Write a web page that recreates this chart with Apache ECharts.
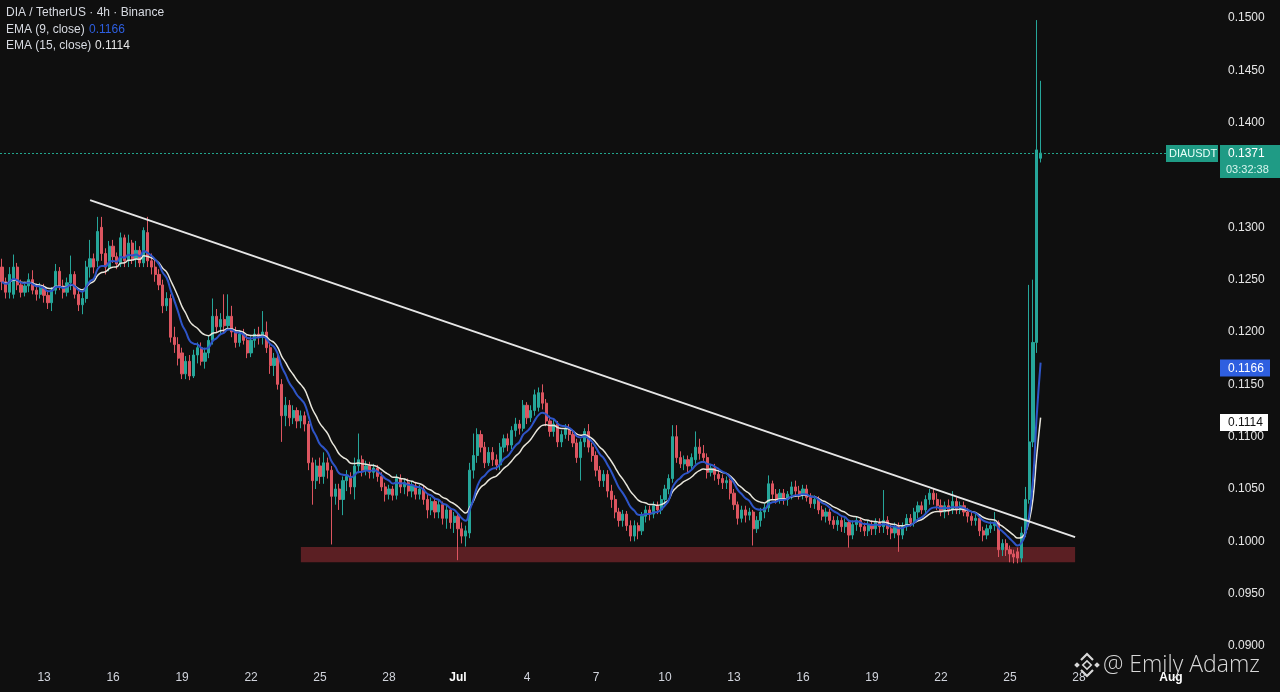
<!DOCTYPE html>
<html>
<head>
<meta charset="utf-8">
<script src="https://cdn.jsdelivr.net/npm/echarts@6/dist/echarts.min.js"></script>
<style>
html,body{margin:0;padding:0;background:#0f0f0f;}
#chart{width:1280px;height:692px;}
</style>
</head>
<body>
<div id="chart"></div>
<script>
// ---- data (DIA/USDT, 4h, Binance) ----
// each candle: [open, close, low, high]
const candles = [
[0.1262,0.1248,0.1240,0.1270],[0.1248,0.1238,0.1232,0.1252],[0.1238,0.1255,0.1232,0.1262],[0.1236,0.1262,0.1232,0.1274],
[0.1262,0.1245,0.1240,0.1266],[0.1245,0.1238,0.1233,0.1250],[0.1238,0.1244,0.1234,0.1248],[0.1244,0.1250,0.1238,0.1256],
[0.1250,0.1240,0.1236,0.1259],[0.1240,0.1236,0.1230,0.1246],[0.1236,0.1242,0.1232,0.1247],[0.1242,0.1235,0.1228,0.1246],
[0.1235,0.1228,0.1222,0.1240],[0.1228,0.1240,0.1220,0.1243],[0.1240,0.1258,0.1236,0.1265],[0.1258,0.1244,0.1240,0.1262],
[0.1244,0.1238,0.1232,0.1250],[0.1238,0.1247,0.1234,0.1252],[0.1247,0.1255,0.1240,0.1273],[0.1255,0.1236,0.1232,0.1258],
[0.1236,0.1226,0.1220,0.1240],[0.1226,0.1232,0.1217,0.1238],[0.1232,0.1262,0.1228,0.1268],[0.1262,0.1270,0.1252,0.1288],
[0.1270,0.1262,0.1256,0.1275],[0.1268,0.1296,0.1262,0.1310],[0.1300,0.1275,0.1268,0.1310],[0.1275,0.1262,0.1255,0.1280],
[0.1262,0.1282,0.1258,0.1287],[0.1282,0.1272,0.1266,0.1288],[0.1272,0.1265,0.1260,0.1276],[0.1265,0.1290,0.1262,0.1295],
[0.1290,0.1268,0.1262,0.1293],[0.1268,0.1285,0.1262,0.1293],[0.1285,0.1270,0.1265,0.1288],[0.1270,0.1278,0.1262,0.1287],
[0.1278,0.1266,0.1262,0.1282],[0.1266,0.1297,0.1262,0.1300],[0.1295,0.1268,0.1262,0.1310],[0.1268,0.1262,0.1255,0.1275],
[0.1262,0.1255,0.1248,0.1270],[0.1255,0.1245,0.1240,0.1260],[0.1245,0.1225,0.1218,0.1250],[0.1225,0.1232,0.1220,0.1238],
[0.1232,0.1195,0.1190,0.1236],[0.1195,0.1188,0.1180,0.1205],[0.1188,0.1175,0.1168,0.1195],[0.1180,0.1160,0.1155,0.1185],
[0.1160,0.1172,0.1155,0.1177],[0.1172,0.1158,0.1154,0.1178],[0.1158,0.1178,0.1156,0.1183],[0.1178,0.1185,0.1170,0.1190],
[0.1185,0.1172,0.1168,0.1190],[0.1172,0.1180,0.1165,0.1185],[0.1180,0.1192,0.1175,0.1197],[0.1192,0.1215,0.1188,0.1232],
[0.1215,0.1205,0.1200,0.1222],[0.1205,0.1212,0.1198,0.1218],[0.1212,0.1206,0.1200,0.1236],[0.1206,0.1215,0.1202,0.1236],
[0.1215,0.1200,0.1195,0.1225],[0.1200,0.1190,0.1185,0.1205],[0.1190,0.1198,0.1186,0.1202],[0.1198,0.1192,0.1188,0.1203],
[0.1192,0.1180,0.1175,0.1198],[0.1180,0.1192,0.1176,0.1196],[0.1192,0.1198,0.1185,0.1203],[0.1198,0.1195,0.1188,0.1205],
[0.1195,0.1200,0.1188,0.1220],[0.1200,0.1185,0.1180,0.1210],[0.1185,0.1168,0.1160,0.1190],[0.1168,0.1175,0.1158,0.1180],
[0.1175,0.1150,0.1145,0.1178],[0.1150,0.1120,0.1095,0.1155],[0.1120,0.1130,0.1110,0.1138],[0.1130,0.1118,0.1110,0.1135],
[0.1118,0.1125,0.1112,0.1130],[0.1125,0.1115,0.1108,0.1128],[0.1115,0.1120,0.1108,0.1125],[0.1120,0.1112,0.1105,0.1124],
[0.1112,0.1075,0.1068,0.1115],[0.1075,0.1058,0.1035,0.1080],[0.1058,0.1072,0.1050,0.1078],[0.1072,0.1062,0.1055,0.1080],
[0.1062,0.1075,0.1055,0.1085],[0.1075,0.1068,0.1060,0.1080],[0.1068,0.1043,0.0997,0.1072],[0.1043,0.1050,0.1035,0.1055],
[0.1050,0.1040,0.1030,0.1055],[0.1040,0.1058,0.1025,0.1062],[0.1058,0.1062,0.1048,0.1068],[0.1062,0.1052,0.1045,0.1066],
[0.1052,0.1072,0.1040,0.1080],[0.1072,0.1078,0.1065,0.1103],[0.1078,0.1068,0.1062,0.1082],[0.1068,0.1072,0.1063,0.1077],
[0.1072,0.1066,0.1060,0.1076],[0.1066,0.1070,0.1060,0.1074],[0.1070,0.1062,0.1057,0.1073],[0.1062,0.1052,0.1048,0.1066],
[0.1052,0.1045,0.1038,0.1056],[0.1045,0.1050,0.1040,0.1054],[0.1050,0.1044,0.1039,0.1053],[0.1044,0.1060,0.1040,0.1064],
[0.1060,0.1052,0.1046,0.1064],[0.1052,0.1056,0.1045,0.1060],[0.1056,0.1048,0.1043,0.1060],[0.1048,0.1053,0.1042,0.1058],
[0.1053,0.1045,0.1040,0.1057],[0.1045,0.1050,0.1040,0.1054],[0.1050,0.1040,0.1035,0.1054],[0.1040,0.1030,0.1022,0.1045],
[0.1030,0.1038,0.1025,0.1042],[0.1038,0.1028,0.1022,0.1041],[0.1028,0.1035,0.1022,0.1040],[0.1035,0.1022,0.1016,0.1038],
[0.1022,0.1030,0.1012,0.1034],[0.1030,0.1018,0.1012,0.1032],[0.1018,0.1024,0.1008,0.1028],[0.1024,0.1012,0.0982,0.1026],
[0.1012,0.1005,0.0998,0.1018],[0.1005,0.1010,0.0995,0.1015],[0.1008,0.1068,0.1003,0.1075],[0.1068,0.1082,0.1060,0.1103],
[0.1082,0.1102,0.1075,0.1108],[0.1102,0.1090,0.1085,0.1106],[0.1090,0.1075,0.1070,0.1095],[0.1075,0.1085,0.1072,0.1090],
[0.1085,0.1078,0.1072,0.1090],[0.1078,0.1073,0.1068,0.1083],[0.1073,0.1090,0.1068,0.1094],[0.1090,0.1098,0.1085,0.1102],
[0.1098,0.1092,0.1086,0.1103],[0.1092,0.1106,0.1088,0.1110],[0.1106,0.1112,0.1100,0.1118],[0.1112,0.1108,0.1102,0.1116],
[0.1108,0.1130,0.1105,0.1135],[0.1130,0.1118,0.1112,0.1133],[0.1118,0.1125,0.1114,0.1130],[0.1125,0.1140,0.1120,0.1145],
[0.1128,0.1142,0.1124,0.1147],[0.1142,0.1132,0.1126,0.1150],[0.1132,0.1115,0.1110,0.1136],[0.1115,0.1105,0.1100,0.1120],
[0.1105,0.1112,0.1100,0.1116],[0.1112,0.1095,0.1090,0.1115],[0.1095,0.1102,0.1090,0.1106],[0.1102,0.1108,0.1098,0.1112],
[0.1108,0.1102,0.1096,0.1112],[0.1102,0.1094,0.1090,0.1106],[0.1094,0.1080,0.1075,0.1098],[0.1080,0.1095,0.1058,0.1098],
[0.1095,0.1105,0.1090,0.1108],[0.1105,0.1090,0.1085,0.1112],[0.1090,0.1082,0.1076,0.1094],[0.1082,0.1068,0.1062,0.1086],
[0.1068,0.1058,0.1052,0.1072],[0.1058,0.1064,0.1052,0.1068],[0.1064,0.1048,0.1042,0.1068],[0.1048,0.1040,0.1032,0.1054],
[0.1040,0.1028,0.1022,0.1044],[0.1028,0.1020,0.1014,0.1032],[0.1020,0.1026,0.1014,0.1030],[0.1026,0.1015,0.1010,0.1029],
[0.1015,0.1005,0.1000,0.1020],[0.1005,0.1015,0.1000,0.1020],[0.1015,0.1010,0.1002,0.1018],[0.1010,0.1024,0.1006,0.1028],
[0.1024,0.1030,0.1018,0.1034],[0.1030,0.1026,0.1020,0.1034],[0.1026,0.1034,0.1022,0.1038],[0.1034,0.1030,0.1026,0.1038],
[0.1030,0.1040,0.1026,0.1044],[0.1040,0.1050,0.1035,0.1054],[0.1050,0.1060,0.1045,0.1064],[0.1060,0.1100,0.1056,0.1111],
[0.1100,0.1080,0.1075,0.1111],[0.1080,0.1074,0.1070,0.1086],[0.1074,0.1078,0.1068,0.1082],[0.1078,0.1072,0.1066,0.1082],
[0.1072,0.1080,0.1068,0.1084],[0.1078,0.1090,0.1074,0.1105],[0.1090,0.1084,0.1078,0.1098],[0.1084,0.1080,0.1075,0.1092],
[0.1080,0.1066,0.1060,0.1084],[0.1066,0.1070,0.1062,0.1074],[0.1070,0.1064,0.1058,0.1074],[0.1064,0.1060,0.1054,0.1068],
[0.1060,0.1056,0.1050,0.1064],[0.1056,0.1058,0.1050,0.1062],[0.1058,0.1046,0.1040,0.1060],[0.1046,0.1035,0.1030,0.1050],
[0.1035,0.1022,0.1016,0.1038],[0.1022,0.1030,0.1018,0.1034],[0.1030,0.1025,0.1018,0.1034],[0.1025,0.1028,0.1020,0.1032],
[0.1028,0.1012,0.0996,0.1030],[0.1012,0.1020,0.1008,0.1024],[0.1020,0.1028,0.1014,0.1032],[0.1028,0.1032,0.1022,0.1036],
[0.1032,0.1055,0.1028,0.1063],[0.1055,0.1045,0.1040,0.1058],[0.1045,0.1040,0.1036,0.1050],[0.1040,0.1046,0.1036,0.1050],
[0.1046,0.1040,0.1035,0.1050],[0.1040,0.1045,0.1034,0.1048],[0.1045,0.1052,0.1040,0.1057],[0.1052,0.1048,0.1044,0.1058],
[0.1048,0.1045,0.1040,0.1053],[0.1045,0.1050,0.1040,0.1054],[0.1050,0.1042,0.1038,0.1054],[0.1042,0.1036,0.1032,0.1046],
[0.1036,0.1040,0.1031,0.1044],[0.1040,0.1030,0.1026,0.1043],[0.1030,0.1024,0.1020,0.1034],[0.1024,0.1028,0.1018,0.1032],
[0.1028,0.1020,0.1016,0.1031],[0.1020,0.1016,0.1012,0.1024],[0.1016,0.1020,0.1010,0.1024],[0.1020,0.1014,0.1009,0.1023],
[0.1014,0.1018,0.1008,0.1022],[0.1018,0.1006,0.0994,0.1020],[0.1006,0.1016,0.1002,0.1020],[0.1016,0.1020,0.1010,0.1024],
[0.1020,0.1014,0.1009,0.1023],[0.1014,0.1010,0.1005,0.1018],[0.1010,0.1016,0.1005,0.1020],[0.1016,0.1012,0.1006,0.1020],
[0.1012,0.1018,0.1006,0.1022],[0.1018,0.1014,0.1008,0.1022],[0.1014,0.1020,0.1008,0.1049],[0.1020,0.1012,0.1006,0.1024],
[0.1012,0.1008,0.1002,0.1016],[0.1008,0.1014,0.1003,0.1018],[0.1014,0.1006,0.0990,0.1018],[0.1006,0.1014,0.1002,0.1018],
[0.1014,0.1022,0.1010,0.1026],[0.1022,0.1018,0.1014,0.1026],[0.1018,0.1028,0.1014,0.1032],[0.1028,0.1034,0.1022,0.1038],
[0.1034,0.1030,0.1026,0.1038],[0.1030,0.1040,0.1026,0.1044],[0.1040,0.1046,0.1035,0.1050],[0.1046,0.1040,0.1035,0.1050],
[0.1040,0.1034,0.1030,0.1046],[0.1034,0.1028,0.1024,0.1040],[0.1028,0.1034,0.1022,0.1038],[0.1034,0.1030,0.1025,0.1040],
[0.1030,0.1038,0.1026,0.1048],[0.1038,0.1030,0.1026,0.1042],[0.1030,0.1034,0.1026,0.1038],[0.1034,0.1028,0.1024,0.1038],
[0.1028,0.1024,0.1018,0.1032],[0.1024,0.1020,0.1015,0.1028],[0.1020,0.1022,0.1015,0.1026],[0.1022,0.1010,0.1005,0.1025],
[0.1010,0.1006,0.1000,0.1014],[0.1006,0.1012,0.1002,0.1016],[0.1012,0.1015,0.1008,0.1019],[0.1015,0.1018,0.1010,0.1028],
[0.1018,0.0992,0.0985,0.1020],[0.0992,0.0998,0.0986,0.1002],[0.0998,0.0992,0.0986,0.1002],[0.0992,0.0988,0.0980,0.0996],
[0.0988,0.0985,0.0979,0.0992],[0.0990,0.0984,0.0979,0.0994],[0.0984,0.1008,0.0980,0.1014],[0.1008,0.1040,0.1004,0.1052],
[0.1040,0.1095,0.1036,0.1245],[0.1095,0.1190,0.1090,0.1250],[0.1190,0.1374,0.1180,0.1498],[0.1366,0.1371,0.1362,0.1440]
];
const startTime = Date.UTC(2024, 5, 11, 4);   // first 4h bar
const slotCount = 317;                          // bars + empty space to the right
const tickDates  = ['06-13','06-16','06-19','06-22','06-25','06-28','07-01','07-04','07-07','07-10','07-13','07-16','07-19','07-22','07-25','07-28','08-01'];
const tickLabels = ['13','16','19','22','25','28','Jul','4','7','10','13','16','19','22','25','28','Aug'];
const yTicks = {min: 0.09, max: 0.15, step: 0.005};
const lastPrice = 0.1371, countdown = '03:32:38';
const ema9Label = 0.1166, ema15Label = 0.1114;
const trendLine = [[23, 0.1326], [280, 0.1004]];
const supportZone = [[78, 0.09946], [280, 0.0980]];

// ---- build ----
const pad = n => (n < 10 ? '0' : '') + n;
const categories = [];
for (let i = 0; i < slotCount; i++) {
  const d = new Date(startTime + i * 4 * 3600 * 1000);
  categories.push(pad(d.getUTCMonth() + 1) + '-' + pad(d.getUTCDate()) + ' ' + pad(d.getUTCHours()));
}
const closes = candles.map(c => c[1]);
function ema(values, n) {
  const a = 2 / (n + 1); const out = []; let prev = values[0];
  values.forEach((v, i) => { prev = i === 0 ? v : prev + a * (v - prev); out.push(+prev.toFixed(5)); });
  return out;
}
const ema9 = ema(closes, 9), ema15 = ema(closes, 15);

const chart = echarts.init(document.getElementById('chart'));
const FONT = '"Liberation Sans", "Noto Sans", sans-serif';
chart.setOption({
  backgroundColor: '#0f0f0f',
  animation: false,
  grid: {left: 0, right: 65, top: 18, bottom: 46},
  xAxis: {
    type: 'category', data: categories, boundaryGap: true,
    axisLine: {show: false}, axisTick: {show: false}, splitLine: {show: false},
    axisLabel: {
      color: '#d1d4dc', fontSize: 12, fontFamily: FONT, margin: 26, hideOverlap: false,
      interval: (idx, val) => tickDates.indexOf(val.slice(0, 5)) >= 0 && val.slice(6) === '00',
      formatter: val => {
        const t = tickLabels[tickDates.indexOf(val.slice(0, 5))];
        return (t === 'Jul' || t === 'Aug') ? '{b|' + t + '}' : t;
      },
      rich: {b: {color: '#ffffff', fontWeight: 'bold', fontSize: 12, fontFamily: FONT}}
    }
  },
  yAxis: {
    type: 'value', position: 'right', min: yTicks.min, max: yTicks.max, interval: yTicks.step,
    axisLine: {show: false}, axisTick: {show: false}, splitLine: {show: false},
    axisLabel: {color: '#e6e6e6', fontSize: 12, fontFamily: FONT, margin: 13, formatter: v => v.toFixed(4)}
  },
  series: [
    {
      type: 'candlestick', data: candles, barWidth: '70%',
      itemStyle: {color: '#26a69a', color0: '#dd5560', borderColor: '#26a69a', borderColor0: '#dd5560', borderWidth: 1},
      markArea: {silent: true, itemStyle: {color: '#5b1f23'},
        data: [[{coord: supportZone[0]}, {coord: supportZone[1]}]]},
      markLine: {silent: true, precision: 5, symbol: ['none', 'none'], label: {show: false},
        data: [
          [{coord: trendLine[0], lineStyle: {color: '#e6e6e6', width: 2, type: 'solid'}},
           {coord: trendLine[1]}]
        ]}
    },
    {type: 'line', data: ema15, showSymbol: false, smooth: true, lineStyle: {color: '#e8e6dc', width: 1.5}, z: 3},
    {type: 'line', data: ema9, showSymbol: false, smooth: true, lineStyle: {color: '#2e55c8', width: 2}, z: 4,
      markLine: {silent: true, precision: 5, symbol: ['none', 'none'], label: {show: false},
        data: [{yAxis: lastPrice, lineStyle: {color: '#22a58d', width: 1, type: [2, 2]}}]}}
  ]
});

// price tags on the right axis and header texts
const yPix = v => chart.convertToPixel({yAxisIndex: 0}, v);
const yL = yPix(lastPrice), y9 = yPix(ema9Label), y15 = yPix(ema15Label);
const tf = (t, x, y, o, z) => ({type: 'text', x, y, z: z || 5,
  style: Object.assign({text: t, fill: '#d8dbe2', font: '12px ' + FONT, textVerticalAlign: 'middle'}, o || {})});
chart.setOption({graphic: [
  tf('DIA / TetherUS · 4h · Binance', 6, 13),
  tf('EMA (9, close)', 6, 30), tf(ema9Label.toFixed(4), 89, 30, {fill: '#2e5fe0'}),
  tf('EMA (15, close)', 6, 46), tf(ema15Label.toFixed(4), 95, 46, {fill: '#e6e6e6'}),
  {type: 'rect', z: 10, shape: {x: 1166, y: yL - 8, width: 52, height: 17}, style: {fill: '#1f9b85'}},
  tf('DIAUSDT', 1169, yL + 1, {fill: '#e8fff9', font: '11px ' + FONT}, 11),
  {type: 'rect', z: 10, shape: {x: 1220, y: yL - 8, width: 60, height: 33}, style: {fill: '#1f9b85'}},
  tf(lastPrice.toFixed(4), 1228, yL + 1, {fill: '#ffffff'}, 11),
  tf(countdown, 1226, yL + 17, {fill: '#d8f5ee', font: '11px ' + FONT}, 11),
  {type: 'rect', z: 10, shape: {x: 1220, y: y9 - 8, width: 50, height: 17}, style: {fill: '#2e5fe0'}},
  tf(ema9Label.toFixed(4), 1228, y9 + 1, {fill: '#ffffff'}, 11),
  {type: 'rect', z: 10, shape: {x: 1220, y: y15 - 8, width: 48, height: 17}, style: {fill: '#ffffff'}},
  tf(ema15Label.toFixed(4), 1228, y15 + 1, {fill: '#111111'}, 11),
  // watermark
  {type: 'group', x: 1087, y: 665, z: 12, children: [
    {type: 'rect', shape: {x: -3, y: -3, width: 6, height: 6}, rotation: Math.PI / 4, style: {fill: 'none', stroke: '#d8d8d8', lineWidth: 1.6}},
    {type: 'rect', shape: {x: -2, y: -2, width: 4, height: 4}, x: -10, rotation: Math.PI / 4, style: {fill: '#d8d8d8'}},
    {type: 'rect', shape: {x: -2, y: -2, width: 4, height: 4}, x: 10, rotation: Math.PI / 4, style: {fill: '#d8d8d8'}},
    {type: 'polyline', shape: {points: [[-6, -5], [0, -11], [6, -5]]}, style: {stroke: '#d8d8d8', lineWidth: 2.2, fill: 'none'}},
    {type: 'polyline', shape: {points: [[-6, 5], [0, 11], [6, 5]]}, style: {stroke: '#d8d8d8', lineWidth: 2.2, fill: 'none'}}
  ]},
  {type: 'text', x: 1103, y: 665, z: 12, style: {text: '@ Emily Adamz', fill: '#d8d8d8', font: '300 23px "Open Sans", sans-serif', textVerticalAlign: 'middle'}}
]});
</script>
</body>
</html>
